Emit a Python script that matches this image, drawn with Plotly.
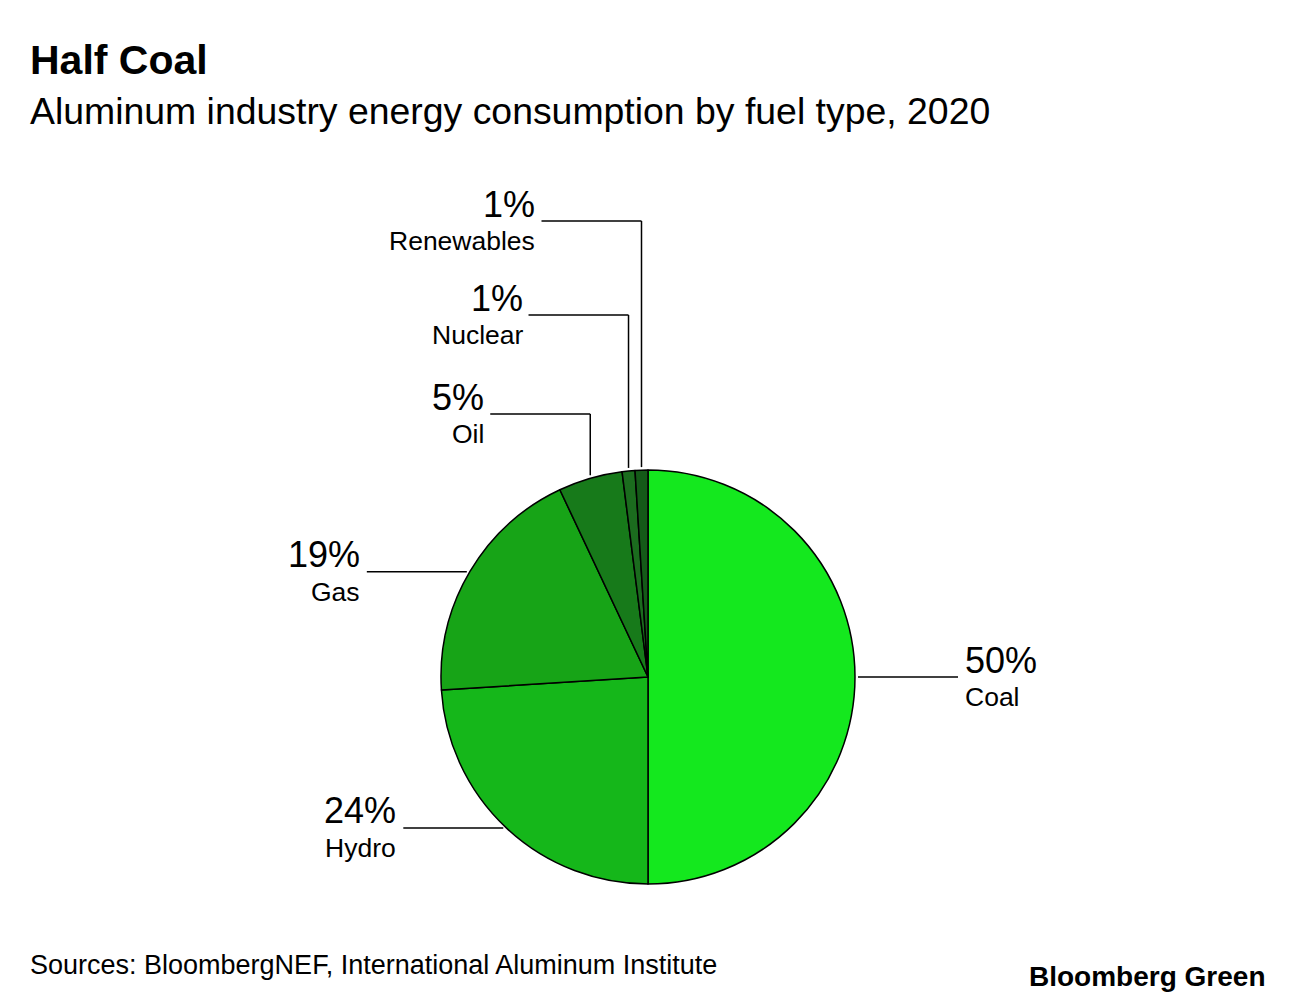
import math
import plotly.graph_objects as go

# ---- data ----
fuels = ["Coal", "Hydro", "Gas", "Oil", "Nuclear", "Renewables"]
shares = [50, 24, 19, 5, 1, 1]
pct_labels = ["50%", "24%", "19%", "5%", "1%", "1%"]
colors = ["#14e81e", "#15b71a", "#17a417", "#177a1a", "#1b6c1e", "#145a18"]

# page offset (default body margin) compensation
OFF = 8
W, H = 1296 - OFF, 1004 - OFF
FONT = "Liberation Sans, Arial, sans-serif"

def px(x):
    return (x - OFF) / W

def py(y):
    return 1 - (y - OFF) / H

# pie geometry (target pixels)
cx, cy, r = 648, 677, 207
dom_x = [px(cx - r), px(cx + r)]
dom_y = [py(cy + r), py(cy - r)]

fig = go.Figure(go.Pie(
    labels=fuels, values=shares, sort=False, direction="clockwise", rotation=0,
    marker=dict(colors=colors, line=dict(color="#000000", width=1.5)),
    textinfo="none", hoverinfo="label+percent", showlegend=False,
    domain=dict(x=dom_x, y=dom_y),
))

# leader-line layout: side and elbow height (for slices labelled above)
sides = ["right", "left", "left", "up", "up", "up"]
elbow_y = [None, None, None, 414, 315, 221]
seg = 100

shapes = []
annotations = []
total = sum(shares)
cum = 0
for i, v in enumerate(shares):
    mid = (cum + v / 2) / total * 2 * math.pi
    cum += v
    ex = cx + r * math.sin(mid)
    ey = cy - r * math.cos(mid)
    line = dict(type="line", xref="paper", yref="paper",
                line=dict(color="#000000", width=1.5))
    if sides[i] == "right":
        x0, x1, ly = ex + 3, ex + 3 + seg, ey
        shapes.append(dict(line, x0=px(x0), x1=px(x1), y0=py(ly), y1=py(ly)))
        tx, anchor = x1 + 5, "left"
    elif sides[i] == "left":
        x0, x1, ly = ex - 3, ex - 3 - seg, ey
        shapes.append(dict(line, x0=px(x0), x1=px(x1), y0=py(ly), y1=py(ly)))
        tx, anchor = x1 - 5, "right"
    else:
        ly = elbow_y[i]
        shapes.append(dict(line, x0=px(ex), x1=px(ex), y0=py(ey - 3), y1=py(ly)))
        shapes.append(dict(line, x0=px(ex), x1=px(ex - seg), y0=py(ly), y1=py(ly)))
        tx, anchor = ex - seg - 4, "right"
    annotations.append(dict(x=px(tx), y=py(ly - 17), xref="paper", yref="paper",
                            text=pct_labels[i], showarrow=False, xanchor=anchor,
                            yanchor="middle", font=dict(family=FONT, size=36, color="#000")))
    annotations.append(dict(x=px(tx), y=py(ly + 20), xref="paper", yref="paper",
                            text=fuels[i], showarrow=False, xanchor=anchor,
                            yanchor="middle", font=dict(family=FONT, size=26.5, color="#000")))

annotations += [
    dict(x=px(28), y=py(60), xref="paper", yref="paper", text="<b>Half Coal</b>",
         showarrow=False, xanchor="left", yanchor="middle",
         font=dict(family=FONT, size=41, color="#000")),
    dict(x=px(28), y=py(111), xref="paper", yref="paper",
         text="Aluminum industry energy consumption by fuel type, 2020",
         showarrow=False, xanchor="left", yanchor="middle",
         font=dict(family=FONT, size=37.4, color="#000")),
    dict(x=px(28), y=py(965), xref="paper", yref="paper",
         text="Sources: BloombergNEF, International Aluminum Institute",
         showarrow=False, xanchor="left", yanchor="middle",
         font=dict(family=FONT, size=27, color="#000")),
    dict(x=px(1267), y=py(976), xref="paper", yref="paper",
         text="<b>Bloomberg Green</b>",
         showarrow=False, xanchor="right", yanchor="middle",
         font=dict(family=FONT, size=28, color="#000")),
]

fig.update_layout(
    width=W, height=H, autosize=False,
    margin=dict(l=0, r=0, t=0, b=0),
    paper_bgcolor="#ffffff", plot_bgcolor="#ffffff",
    shapes=shapes, annotations=annotations,
    font=dict(family=FONT),
)

fig.write_html("out.html")
